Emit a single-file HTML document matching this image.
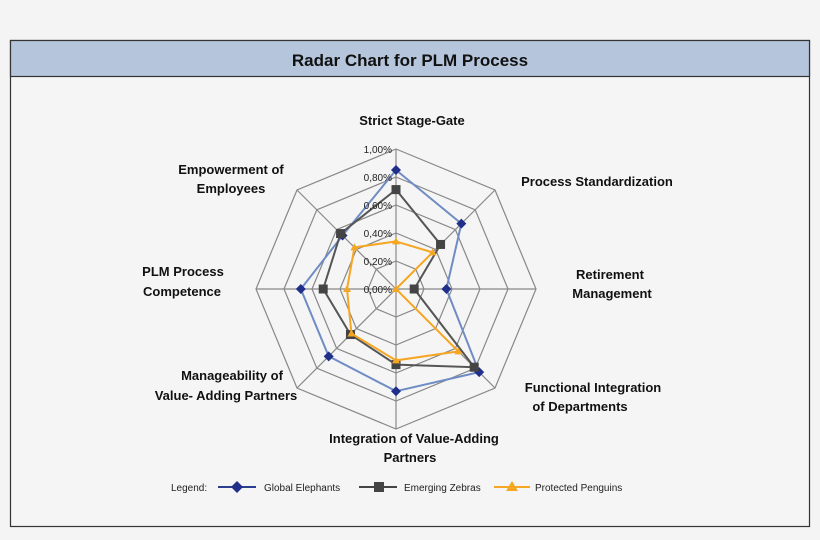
<!DOCTYPE html>
<html><head><meta charset="utf-8"><style>
html,body{margin:0;padding:0;background:#f4f4f4;}
svg{display:block;font-family:"Liberation Sans",Arial,sans-serif;}
</style></head><body>
<svg id="s" width="820" height="540" xmlns="http://www.w3.org/2000/svg">
<rect x="0" y="0" width="820" height="540" fill="#f4f4f4"/>
<rect x="10.5" y="40.5" width="799" height="486" fill="#f5f5f5" stroke="#333" stroke-width="1.2"/>
<rect x="10.5" y="40.5" width="799" height="36" fill="#b4c5dc" stroke="#333" stroke-width="1.2"/>
<text x="410" y="66" text-anchor="middle" font-size="17" font-weight="bold" fill="#111">Radar Chart for PLM Process</text>
<g id="grid"></g>
<g id="series"></g>
<g font-size="13" font-weight="bold" fill="#111" text-anchor="middle">
<text x="412" y="125">Strict Stage-Gate</text>
<text x="597" y="186">Process Standardization</text>
<text x="610" y="279">Retirement</text>
<text x="612" y="298">Management</text>
<text x="593" y="392">Functional Integration</text>
<text x="580" y="411">of Departments</text>
<text x="414" y="443">Integration of Value-Adding</text>
<text x="410" y="462">Partners</text>
<text x="232" y="380">Manageability of</text>
<text x="226" y="400">Value- Adding Partners</text>
<text x="183" y="276">PLM Process</text>
<text x="182" y="296">Competence</text>
<text x="231" y="174">Empowerment of</text>
<text x="231" y="193">Employees</text>
</g>
<g font-size="10" fill="#222" text-anchor="end">
<text x="392" y="153">1,00%</text>
<text x="392" y="181">0,80%</text>
<text x="392" y="209">0,60%</text>
<text x="392" y="237">0,40%</text>
<text x="392" y="265">0,20%</text>
<text x="392" y="293">0,00%</text>
</g>
<g font-size="10" fill="#222">
<text x="171" y="491">Legend:</text>
<line x1="218" y1="487" x2="256" y2="487" stroke="#2c3f8f" stroke-width="2"/>
<path d="M237 481 L243 487 L237 493 L231 487Z" fill="#1f2f8a"/>
<text x="264" y="491">Global Elephants</text>
<line x1="359" y1="487" x2="397" y2="487" stroke="#444" stroke-width="2"/>
<rect x="374" y="482" width="10" height="10" fill="#444"/>
<text x="404" y="491">Emerging Zebras</text>
<line x1="494" y1="487" x2="530" y2="487" stroke="#f5a623" stroke-width="2"/>
<path d="M512 481 L518 491 L506 491Z" fill="#f5a623"/>
<text x="535" y="491">Protected Penguins</text>
</g>
</svg>
<script>
var cx=396,cy=289,R=140,NS="http://www.w3.org/2000/svg";
function pt(i,v){var a=-Math.PI/2+i*Math.PI/4;return [cx+R*v*Math.cos(a),cy+R*v*Math.sin(a)];}
var g=document.getElementById('grid'),h='';
for(var k=1;k<=5;k++){var p=[];for(var i=0;i<8;i++)p.push(pt(i,k/5).join(','));h+='<polygon points="'+p.join(' ')+'" fill="none" stroke="#888" stroke-width="1.2"/>';}
for(var i=0;i<8;i++){var q=pt(i,1);h+='<line x1="'+cx+'" y1="'+cy+'" x2="'+q[0]+'" y2="'+q[1]+'" stroke="#888" stroke-width="1.2"/>';}
g.innerHTML=h;
var S=[
{v:[0.85,0.66,0.36,0.84,0.73,0.68,0.68,0.54],c:'#6f8cc4',m:'#1f2f8a',t:'d'},
{v:[0.71,0.45,0.13,0.79,0.54,0.46,0.52,0.56],c:'#555',m:'#444',t:'s'},
{v:[0.34,0.37,0.0,0.63,0.51,0.45,0.35,0.42],c:'#f5a623',m:'#f5a623',t:'t'}];
var o='';
S.forEach(function(s){var p=s.v.map(function(v,i){return pt(i,v);});
o+='<polygon points="'+p.map(function(a){return a.join(',')}).join(' ')+'" fill="none" stroke="'+s.c+'" stroke-width="2"/>';
p.forEach(function(a){var x=a[0],y=a[1];
if(s.t=='d')o+='<path d="M'+x+' '+(y-5)+' L'+(x+5)+' '+y+' L'+x+' '+(y+5)+' L'+(x-5)+' '+y+'Z" fill="'+s.m+'"/>';
else if(s.t=='s')o+='<rect x="'+(x-4.5)+'" y="'+(y-4.5)+'" width="9" height="9" fill="'+s.m+'"/>';
else o+='<path d="M'+x+' '+(y-4)+' L'+(x+4)+' '+(y+3)+' L'+(x-4)+' '+(y+3)+'Z" fill="'+s.m+'"/>';});});
document.getElementById('series').innerHTML=o;
</script>
</body></html>
